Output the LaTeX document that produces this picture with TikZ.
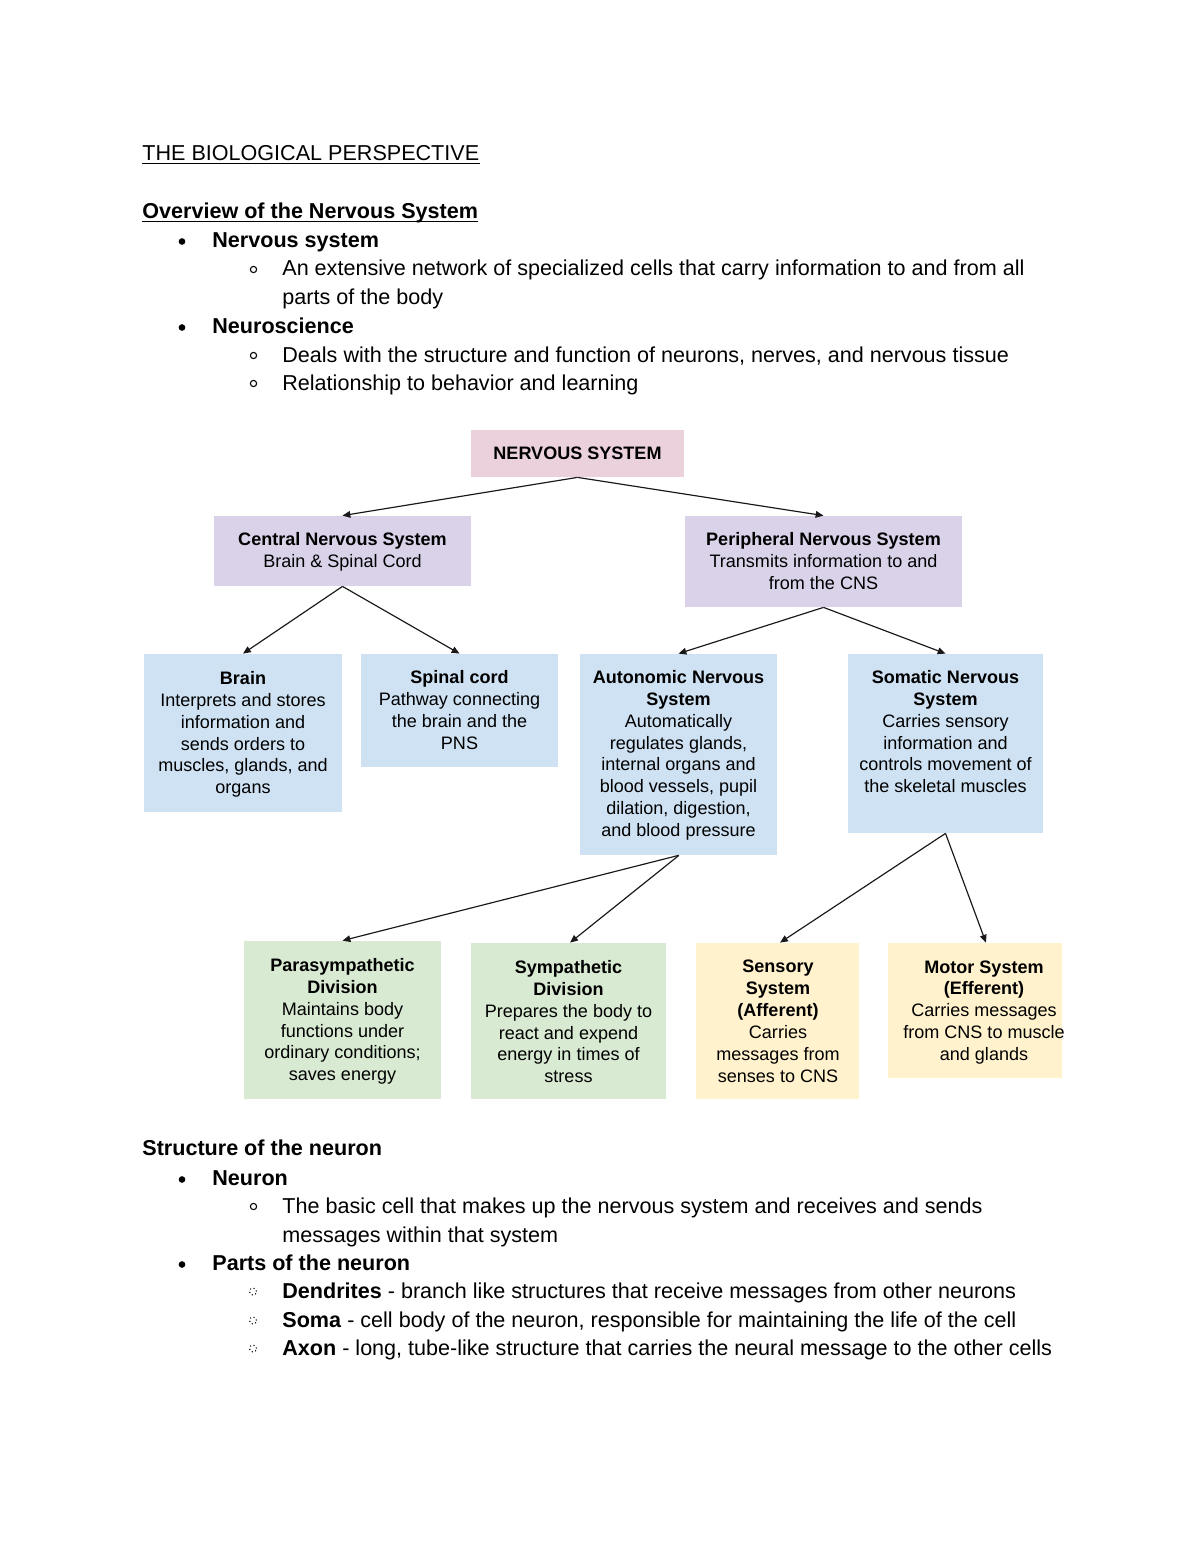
\documentclass[tikz,border=0pt]{standalone}
\usepackage{fontspec}
\setmainfont{Liberation Sans}
\usetikzlibrary{arrows.meta,fit}
\definecolor{cpink}{HTML}{EAD1DC}
\definecolor{cpurple}{HTML}{D9D2E9}
\definecolor{cblue}{HTML}{CFE2F3}
\definecolor{cgreen}{HTML}{D9EAD3}
\definecolor{cyellow}{HTML}{FFF2CC}
\begin{document}
\begin{tikzpicture}[x=0.51pt,y=-0.51pt,
  body/.style={anchor=base west,inner sep=0pt,font=\fontsize{11}{13}\selectfont},
  boxshape/.style={inner sep=0pt,draw=none},
  btxt/.style={anchor=north,inner sep=0pt,align=center,font=\fontsize{9.2}{11.15}\selectfont},
  conn/.style={draw=black!90,line width=0.6pt,-{Triangle[length=4pt,width=3.4pt]}},
  uline/.style={draw=black,line width=0.55pt},
  bulletdot/.style={fill=black},
  bulletring/.style={draw=black,line width=0.55pt},
  bulletdotted/.style={draw=black,line width=0.5pt,dash pattern=on 0.6pt off 1.3pt}
]
\useasboundingbox (0,0) rectangle (1200,1553);

% ---------- top text ----------
\node[body] (title) at (142,161) {THE BIOLOGICAL PERSPECTIVE};
\draw[uline] ([yshift=-1.2pt]title.base west) -- ([yshift=-1.2pt]title.base east);
\node[body] (overview) at (142,219) {\textbf{Overview of the Nervous System}};
\draw[uline] ([yshift=-1.2pt]overview.base west) -- ([yshift=-1.2pt]overview.base east);
\fill[bulletdot] (182,241.5) circle (1.7pt);
\node[body] (ns1) at (212,247) {\textbf{Nervous system}};
\draw[bulletring] (253.5,269.5) circle (1.6pt);
\node[body] (ns1a) at (282,276) {An extensive network of specialized cells that carry information to and from all};
\node[body] (ns1b) at (282,304) {parts of the body};
\fill[bulletdot] (182,327.5) circle (1.7pt);
\node[body] (ns2) at (212,333) {\textbf{Neuroscience}};
\draw[bulletring] (253.5,355.5) circle (1.6pt);
\node[body] (ns2a) at (282,362) {Deals with the structure and function of neurons, nerves, and nervous tissue};
\draw[bulletring] (253.5,383.5) circle (1.6pt);
\node[body] (ns2b) at (282,390) {Relationship to behavior and learning};

% ---------- boxes ----------
\node[boxshape,fill=cpink,fit={(471,430) (684,477)}] (ns) {};
\node[boxshape,fill=cpurple,fit={(214,516) (471,586)}] (cns) {};
\node[boxshape,fill=cpurple,fit={(685,516) (962,607)}] (pns) {};
\node[boxshape,fill=cblue,fit={(144,654) (342,812)}] (brain) {};
\node[boxshape,fill=cblue,fit={(361,654) (558,767)}] (spinal) {};
\node[boxshape,fill=cblue,fit={(580,654) (777,855)}] (auto) {};
\node[boxshape,fill=cblue,fit={(848,654) (1043,833)}] (soma) {};
\node[boxshape,fill=cgreen,fit={(244,941) (441,1099)}] (para) {};
\node[boxshape,fill=cgreen,fit={(471,943) (666,1099)}] (symp) {};
\node[boxshape,fill=cyellow,fit={(696,943) (859,1099)}] (sens) {};
\node[boxshape,fill=cyellow,fit={(888,943) (1062,1078)}] (motor) {};

% ---------- box texts ----------
\node[btxt] (nsT) at (577.5,446.5) {\textbf{NERVOUS SYSTEM}};
\node[btxt] (cnsT) at (342.5,532.5) {\textbf{Central Nervous System}\\Brain \& Spinal Cord};
\node[btxt] (pnsT) at (823.5,532.5) {\textbf{Peripheral Nervous System}\\Transmits information to and\\from the CNS};
\node[btxt] (brainT) at (243,671) {\textbf{Brain}\\Interprets and stores\\information and\\sends orders to\\muscles, glands, and\\organs};
\node[btxt] (spinalT) at (459.5,670) {\textbf{Spinal cord}\\Pathway connecting\\the brain and the\\PNS};
\node[btxt] (autoT) at (678.5,670) {\textbf{Autonomic Nervous}\\\textbf{System}\\Automatically\\regulates glands,\\internal organs and\\blood vessels, pupil\\dilation, digestion,\\and blood pressure};
\node[btxt] (somaT) at (945.5,670) {\textbf{Somatic Nervous}\\\textbf{System}\\Carries sensory\\information and\\controls movement of\\the skeletal muscles};
\node[btxt] (paraT) at (342.5,958) {\textbf{Parasympathetic}\\\textbf{Division}\\Maintains body\\functions under\\ordinary conditions;\\saves energy};
\node[btxt] (sympT) at (568.5,960) {\textbf{Sympathetic}\\\textbf{Division}\\Prepares the body to\\react and expend\\energy in times of\\stress};
\node[btxt] (sensT) at (778,960) {\textbf{Sensory}\\\textbf{System}\\\textbf{(Afferent)}\\Carries\\messages from\\senses to CNS};
\node[btxt] (motorT) at (984,960) {\textbf{Motor System}\\\textbf{(Efferent)}\\Carries messages\\from CNS to muscle\\and glands};

% ---------- connectors ----------
\draw[conn] (ns.south) -- (cns.north);
\draw[conn] (ns.south) -- (pns.north);
\draw[conn] (cns.south) -- (brain.north);
\draw[conn] (cns.south) -- (spinal.north);
\draw[conn] (pns.south) -- (auto.north);
\draw[conn] (pns.south) -- (soma.north);
\draw[conn] (auto.south) -- (para.north);
\draw[conn] ([xshift=0.2pt]auto.south) -- ([xshift=0.8pt]symp.north);
\draw[conn] (soma.south) -- ([xshift=1.3pt]sens.north);
\draw[conn] (soma.south) -- ([xshift=5.6pt]motor.north);

% ---------- bottom text ----------
\node[body] (struct) at (142,1155) {\textbf{Structure of the neuron}};
\fill[bulletdot] (182,1179.5) circle (1.7pt);
\node[body] (neuron) at (212,1185) {\textbf{Neuron}};
\draw[bulletring] (253.5,1206.5) circle (1.6pt);
\node[body] (neurona) at (282,1213) {The basic cell that makes up the nervous system and receives and sends};
\node[body] (neuronb) at (282,1242) {messages within that system};
\fill[bulletdot] (182,1264.5) circle (1.7pt);
\node[body] (parts) at (212,1270) {\textbf{Parts of the neuron}};
\draw[bulletdotted] (253,1291.5) circle (1.8pt);
\node[body] (dend) at (282,1298) {\textbf{Dendrites} - branch like structures that receive messages from other neurons};
\draw[bulletdotted] (253,1320.5) circle (1.8pt);
\node[body] (somat) at (282,1327) {\textbf{Soma} - cell body of the neuron, responsible for maintaining the life of the cell};
\draw[bulletdotted] (253,1348.5) circle (1.8pt);
\node[body] (axon) at (282,1355) {\textbf{Axon} - long, tube-like structure that carries the neural message to the other cells};
\end{tikzpicture}
\end{document}
